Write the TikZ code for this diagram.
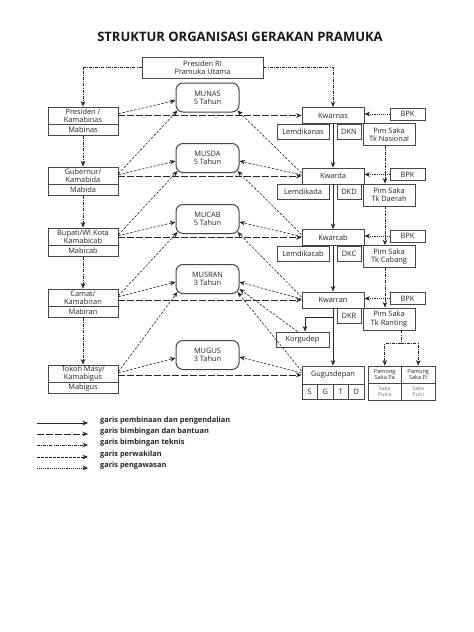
\documentclass[tikz,border=0pt]{standalone}
\usepackage{fontspec}
\setmainfont{Open Sans}
\usetikzlibrary{arrows.meta,calc}
\begin{document}
\begin{tikzpicture}[x=1pt,y=-1pt,
  box/.style={draw=black!72, line width=0.95pt, fill=white, inner sep=0pt, align=center,
              font=\fontsize{7.4}{8.2}\selectfont, text=black!85},
  lbox/.style={box, minimum width=70pt, minimum height=17.5pt},
  lsub/.style={box, minimum width=70pt, minimum height=11pt},
  mus/.style={box, rounded corners=7pt, minimum width=63pt, minimum height=29pt, line width=1pt},
  kwar/.style={box, minimum width=62pt, minimum height=16pt},
  lem/.style={box, minimum width=52pt, minimum height=15pt},
  dk/.style={box, minimum width=24pt, minimum height=15pt},
  pim/.style={box, minimum width=52pt, minimum height=22pt},
  bpk/.style={box, minimum width=35pt, minimum height=12pt},
  cell/.style={box, minimum width=15.5pt, minimum height=15pt},
  pam/.style={box, minimum width=33.5pt, minimum height=17pt, font=\fontsize{5.6}{6.1}\selectfont},
  paml/.style={pam, text=black!55, font=\fontsize{5.3}{5.8}\selectfont},
  con/.style={line width=0.6pt, draw=black!85, -{Stealth[length=5.5pt,width=4.5pt]}},
  pembinaan/.style={con},
  bantuan/.style={con, dash pattern=on 7pt off 2pt},
  teknis/.style={con, dash pattern=on 3pt off 1.2pt on 0.8pt off 1.2pt},
  teknisline/.style={teknis, arrows=-},
  perwakilan/.style={con, dash pattern=on 2.5pt off 1.5pt},
  pengawasan/.style={con, dash pattern=on 0.8pt off 1.1pt},
  legtext/.style={anchor=west, inner sep=0pt, font=\fontsize{7.4}{8}\selectfont\bfseries, text=black!85},
  title/.style={font=\fontsize{13}{15}\selectfont\bfseries, text=black!90}
]
\useasboundingbox (0,0) rectangle (474,632);
\fill[white] (0,0) rectangle (474,632);

\node[title] (title) at (240,37) {STRUKTUR ORGANISASI GERAKAN PRAMUKA};
\node[box, minimum width=121pt, minimum height=21pt] (pres) at (202.5,67.5) {Presiden RI\\Pramuka Utama};

% left column
\node[lbox] (kbn) at (83,115.75) {Presiden /\\Kamabinas};
\node[lsub] (mbn) at (83,130) {Mabinas};
\node[lbox] (kbd) at (83,175.75) {Gubernur/\\Kamabida};
\node[lsub] (mbd) at (83,190) {Mabida};
\node[lbox] (kbc) at (83,236.75) {Bupati/Wl.Kota\\Kamabicab};
\node[lsub] (mbc) at (83,251) {Mabicab};
\node[lbox] (kbr) at (83,297.75) {Camat/\\Kamabiran};
\node[lsub] (mbr) at (83,312) {Mabiran};
\node[lbox] (kbg) at (83,373.75) {Tokoh Masy/\\Kamabigus};
\node[lsub] (mbg) at (83,388) {Mabigus};

% middle column
\node[mus] (munas) at (207.5,97.5) {MUNAS\\5 Tahun};
\node[mus] (musda) at (207.5,158) {MUSDA\\5 Tahun};
\node[mus] (mucab) at (207.5,219) {MUCAB\\5 Tahun};
\node[mus] (musran) at (207.5,279) {MUSRAN\\3 Tahun};
\node[mus] (mugus) at (207.5,355) {MUGUS\\3 Tahun};

% right column
\node[kwar] (kwn) at (333,115.5) {Kwarnas};
\node[lem] (lemn) at (303,131.5) {Lemdikanas};
\node[dk] (dkn) at (349,131.5) {DKN};
\node[pim] (pimn) at (389,134.5) {Pim Saka\\Tk Nasional};
\node[bpk] (bpkn) at (407.5,114) {BPK};

\node[kwar] (kwd) at (333,176) {Kwarda};
\node[lem] (lemd) at (303,192) {Lemdikada};
\node[dk] (dkd) at (349,192) {DKD};
\node[pim] (pimd) at (389,195) {Pim Saka\\Tk Daerah};
\node[bpk] (bpkd) at (407.5,174.5) {BPK};

\node[kwar] (kwc) at (333,237.5) {Kwarcab};
\node[lem] (lemc) at (303,253.5) {Lemdikacab};
\node[dk] (dkc) at (349,253.5) {DKC};
\node[pim] (pimc) at (389,256.5) {Pim Saka\\Tk Cabang};
\node[bpk] (bpkc) at (407.5,236) {BPK};

\node[kwar] (kwr) at (333,300) {Kwarran};
\node[dk] (dkr) at (349,316) {DKR};
\node[pim] (pimr) at (389,319) {Pim Saka\\Tk Ranting};
\node[bpk] (bpkr) at (407.5,298.5) {BPK};

\node[box, minimum width=53pt, minimum height=15pt] (korg) at (302.5,339.5) {Korgudep};

\node[box, minimum width=62pt, minimum height=18pt] (gug) at (333,375) {Gugusdepan};
\node[cell] (gs) at (309.75,391.5) {S};
\node[cell] (gg) at (325.25,391.5) {G};
\node[cell] (gt) at (340.75,391.5) {T};
\node[cell] (gd) at (356.25,391.5) {D};

\node[pam] (pma) at (384.75,374.5) {Pamong\\Saka Pa};
\node[pam] (pmb) at (418.25,374.5) {Pamong\\Saka Pi};
\node[paml] (pla) at (384.75,391.5) {Saka\\Putra};
\node[paml] (plb) at (418.25,391.5) {Saka\\Putri};

% teknis lines (left column and presiden)
\draw[teknis] (pres.west) -| (kbn.north);
\draw[teknis] (pres.east) -| (kwn.north);
\draw[teknis] (mbn.south) -- (kbd.north);
\draw[teknis] (mbd.south) -- (kbc.north);
\draw[teknis] (mbc.south) -- (kbr.north);
\draw[teknis] (mbr.south) -- (kbg.north);

% bantuan horizontal
\draw[bantuan] (kbn.east |- kwn.west) -- (kwn.west);
\draw[bantuan] (kbd.east |- kwd.west) -- (kwd.west);
\draw[bantuan] (kbc.east |- kwc.west) -- (kwc.west);
\draw[bantuan] (kbr.east |- kwr.west) -- (kwr.west);
\draw[bantuan] (kbg.east |- gug.west) -- (gug.west);

% perwakilan left
\draw[perwakilan] ([yshift=2pt]kbn.east) -- ([yshift=-3pt]munas.west);
\draw[perwakilan] ([yshift=2pt]kbd.east) -- ([xshift=2pt,yshift=2pt]munas.south west);
\draw[perwakilan] ([yshift=1pt]kbd.east) -- ([yshift=-3pt]musda.west);
\draw[perwakilan] ([yshift=2pt]kbc.east) -- ([xshift=2pt,yshift=2pt]musda.south west);
\draw[perwakilan] ([yshift=1pt]kbc.east) -- ([yshift=-3pt]mucab.west);
\draw[perwakilan] ([yshift=2pt]kbr.east) -- ([xshift=2pt,yshift=2pt]mucab.south west);
\draw[perwakilan] ([yshift=1pt]kbr.east) -- ([yshift=-3pt]musran.west);
\draw[perwakilan] ([yshift=2pt]kbg.east) -- ([xshift=2pt,yshift=2pt]musran.south west);
\draw[perwakilan] ([yshift=1pt]kbg.east) -- ([yshift=-3pt]mugus.west);

% perwakilan right
\draw[perwakilan] ([yshift=3pt]kwd.west) -- ([xshift=-2pt,yshift=2pt]munas.south east);
\draw[perwakilan] ([yshift=1pt]kwd.west) -- ([yshift=-3pt]musda.east);
\draw[perwakilan] ([yshift=3pt]kwc.west) -- ([xshift=-2pt,yshift=2pt]musda.south east);
\draw[perwakilan] ([yshift=1pt]kwc.west) -- ([yshift=-3pt]mucab.east);
\draw[perwakilan] ([yshift=3pt]kwr.west) -- ([xshift=-2pt,yshift=2pt]mucab.south east);
\draw[perwakilan] ([yshift=1pt]kwr.west) -- ([yshift=-3pt]musran.east);
\draw[perwakilan] ([xshift=-5pt]korg.north) -- ([yshift=-10pt]musran.east);
\draw[perwakilan] ([yshift=4pt]gug.west) -- ([xshift=-2pt,yshift=2pt]musran.south east);
\draw[perwakilan] ([yshift=2pt]gug.west) -- ([yshift=-2pt]mugus.east);

% pembinaan
\draw[pembinaan] (kwn.south) -- (kwd.north);
\draw[pembinaan] (kwd.south) -- (kwc.north);
\draw[pembinaan] (kwc.south) -- (kwr.north);
\draw[pembinaan] (kwr.south) -- (gug.north);
\coordinate (kj) at ($(kwr.south)+(0,9)$);
\draw[pembinaan] (kj) -| ([xshift=2.5pt]korg.north);

% pengawasan BPK
\draw[pengawasan] (bpkn.west) -- (bpkn.west -| kwn.east);
\draw[pengawasan] (bpkd.west) -- (bpkd.west -| kwd.east);
\draw[pengawasan] (bpkc.west) -- (bpkc.west -| kwc.east);
\draw[pengawasan] (bpkr.west) -- (bpkr.west -| kwr.east);

% teknis pim saka
\draw[teknis] ([xshift=-4pt]pimn.south) -- ([xshift=-4pt]pimd.north);
\draw[teknis] ([xshift=-4pt]pimd.south) -- ([xshift=-4pt]pimc.north);
\draw[teknis] ([xshift=-4pt]pimc.south) -- ([xshift=-4pt]pimr.north);
\coordinate (pj) at ($(pimr.south)+(12,13)$);
\draw[teknisline] ([xshift=12pt]pimr.south) -- (pj);
\draw[teknis] (pj) -| (pma.north);
\draw[teknis] (pj) -| (pmb.north);

% legend
\coordinate (la1) at (37,423); \coordinate (lb1) at (88,423);
\coordinate (la2) at (37,434); \coordinate (lb2) at (88,434);
\coordinate (la3) at (37,445); \coordinate (lb3) at (88,445);
\coordinate (la4) at (37,457); \coordinate (lb4) at (88,457);
\coordinate (la5) at (37,468); \coordinate (lb5) at (88,468);
\draw[pembinaan] (la1) -- (lb1);
\draw[bantuan] (la2) -- (lb2);
\draw[teknis] (la3) -- (lb3);
\draw[perwakilan] (la4) -- (lb4);
\draw[pengawasan] (la5) -- (lb5);
\node[legtext] (t1) at (100,421) {garis pembinaan dan pengendalian};
\node[legtext] (t2) at (100,432) {garis bimbingan dan bantuan};
\node[legtext] (t3) at (100,443) {garis bimbingan teknis};
\node[legtext] (t4) at (100,455) {garis perwakilan};
\node[legtext] (t5) at (100,466) {garis pengawasan};
\end{tikzpicture}
\end{document}
